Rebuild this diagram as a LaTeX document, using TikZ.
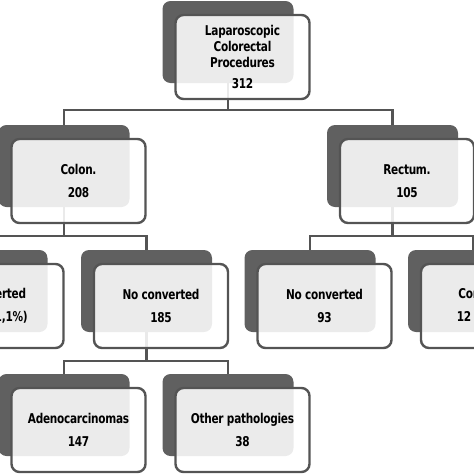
\documentclass[tikz,border=0pt]{standalone}
\usepackage{fontspec}
\setmainfont{DejaVu Sans}
\newfontfamily\cardfont{DejaVu Sans}[FakeStretch=0.78, LetterSpace=-2]
\definecolor{shade}{RGB}{96,96,96}
\definecolor{edge}{RGB}{84,84,84}
\pgfdeclarelayer{wires}
\pgfsetlayers{wires,main}
% one box of the chart: a dark card (#1) with a white card (#1w) laid over it
\newcommand\orgcard[4]{%
  \node[backcard] (#1) at (#2,#3) {};
  \node[frontcard] (#1w) at ({#2+14.5},{#3+15}) {#4};
}
\begin{document}
\begin{tikzpicture}[x=1pt,y=-1pt,
  backcard/.style={draw=none, fill=shade, rounded corners=8pt,
    minimum width=131pt, minimum height=82pt, inner sep=0pt},
  frontcard/.style={draw=edge, line width=2.4pt, fill=white, fill opacity=0.88,
    draw opacity=1, text opacity=1, rounded corners=8pt,
    minimum width=134pt, minimum height=84pt, inner sep=0pt, align=center,
    font=\cardfont\bfseries\fontsize{13.5}{15.7}\selectfont},
  link/.style={draw=edge, line width=2.4pt}]
\useasboundingbox (0,0) rectangle (474,474);
\clip (0,0) rectangle (474,474);

% level 1
\orgcard{lap}{228}{42}{Laparoscopic\\Colorectal\\Procedures\\[5pt]312}
% level 2
\orgcard{colon}{64}{166}{Colon.\\[7pt]208}
\orgcard{rectum}{392.5}{166}{Rectum.\\[7pt]105}
% level 3
\orgcard{ccon}{-18}{291}{Converted\\[7pt]23 (11,1\%)}
\orgcard{cnon}{146.5}{291}{No converted\\[7pt]185}
\orgcard{rnon}{310}{291}{No converted\\[7pt]93}
\orgcard{rcon}{473.5}{291}{Converted\\[7pt]12 (11,4\%)}
% level 4
\orgcard{adeno}{64}{415}{Adenocarcinomas\\[7pt]147}
\orgcard{other}{228}{415}{Other pathologies\\[7pt]38}

% horizontal bus lines of each level
\coordinate (bus1) at (0,110);
\coordinate (bus2) at (0,236);
\coordinate (bus3) at (0,361);

\begin{pgfonlayer}{wires}
  \draw[link] (lap.center) -- (lap.center |- bus1) -| (colon.center);
  \draw[link] (lap.center |- bus1) -| (rectum.center);
  \draw[link] (colon.center) -- (colon.center |- bus2) -| (ccon.center);
  \draw[link] (colon.center |- bus2) -| (cnon.center);
  \draw[link] (rectum.center) -- (rectum.center |- bus2) -| (rnon.center);
  \draw[link] (rectum.center |- bus2) -| (rcon.center);
  \draw[link] (cnon.center) -- (cnon.center |- bus3) -| (adeno.center);
  \draw[link] (cnon.center |- bus3) -| (other.center);
\end{pgfonlayer}
\end{tikzpicture}
\end{document}
